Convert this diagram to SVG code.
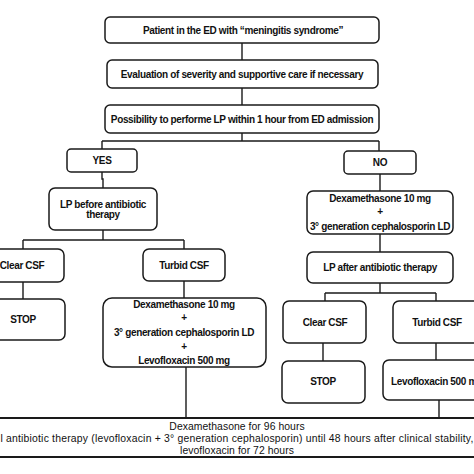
<svg xmlns="http://www.w3.org/2000/svg" width="474" height="474" viewBox="0 0 474 474">
<style>
.box{fill:#fff;stroke:#1a1a1a;stroke-width:1.5}
.t{font-family:"Liberation Sans",Arial,sans-serif;font-weight:bold;font-size:10px;letter-spacing:-0.35px;fill:#111;text-anchor:middle}
.b{font-family:"Liberation Sans",Arial,sans-serif;font-size:10.4px;letter-spacing:0.05px;fill:#111;text-anchor:middle}
.c{stroke:#1a1a1a;stroke-width:1.4;fill:none}
.band{stroke:#1a1a1a;stroke-width:2.2}
</style>
<rect width="474" height="474" fill="#fff"/>
<g id="connectors">
<path class="c" d="M242 43V60M242 88V105M242 133V141M102 141H379M102 141V149M379 141V151"/>
<path class="c" d="M102 172V179H103V188M103 230V240M23 240H184M23 240V249M184 240V249"/>
<path class="c" d="M23 282V299M184 281V298M186 367V418"/>
<path class="c" d="M380 174V191M380 234V252M380 283V293M325 293H436M325 293V301M436 293V301"/>
<path class="c" d="M323 343V361M436 343V360M439 400V418"/>
</g>
<g id="n1"><rect class="box" x="105" y="17" width="274" height="26" rx="5"/><text class="t" x="243" y="33.5">Patient in the ED with “meningitis syndrome”</text></g>
<g id="n2"><rect class="box" x="107" y="60" width="271" height="28" rx="5"/><text class="t" x="242" y="77.5">Evaluation of severity and supportive care if necessary</text></g>
<g id="n3"><rect class="box" x="105" y="105" width="274" height="28" rx="5"/><text class="t" x="242" y="122.5">Possibility to performe LP within 1 hour from ED admission</text></g>
<g id="yes"><rect class="box" x="67" y="149" width="70" height="23" rx="4"/><text class="t" x="102" y="164">YES</text></g>
<g id="no"><rect class="box" x="344" y="151" width="72" height="23" rx="4"/><text class="t" x="380" y="166">NO</text></g>
<g id="lpbefore"><rect class="box" x="49" y="188" width="108" height="42" rx="6"/><text class="t" x="103" y="208">LP  before antibiotic</text><text class="t" x="103" y="218">therapy</text></g>
<g id="clear1"><rect class="box" x="-20" y="249" width="84" height="33" rx="6"/><text class="t" x="22" y="269">Clear CSF</text></g>
<g id="turbid1"><rect class="box" x="143" y="249" width="82" height="32" rx="6"/><text class="t" x="184" y="269">Turbid CSF</text></g>
<g id="stop1"><rect class="box" x="-20" y="299" width="85" height="41" rx="6"/><text class="t" x="23" y="323">STOP</text></g>
<g id="dexa1"><rect class="box" x="103" y="298" width="163" height="69" rx="9"/>
<text class="t" x="184" y="308">Dexamethasone 10 mg</text>
<text class="t" x="184" y="321">+</text>
<text class="t" x="184" y="336">3° generation cephalosporin LD</text>
<text class="t" x="184" y="350">+</text>
<text class="t" x="184" y="364">Levofloxacin 500 mg</text></g>
<g id="dexa2"><rect class="box" x="307" y="191" width="146" height="43" rx="6"/>
<text class="t" x="380" y="202">Dexamethasone 10 mg</text>
<text class="t" x="380" y="215">+</text>
<text class="t" x="380" y="230">3° generation cephalosporin LD</text></g>
<g id="lpafter"><rect class="box" x="307" y="252" width="146" height="31" rx="6"/><text class="t" x="380" y="271">LP after  antibiotic therapy</text></g>
<g id="clear2"><rect class="box" x="283" y="301" width="83" height="42" rx="6"/><text class="t" x="325" y="326">Clear CSF</text></g>
<g id="turbid2"><rect class="box" x="393" y="301" width="90" height="42" rx="6"/><text class="t" x="437" y="326">Turbid CSF</text></g>
<g id="stop2"><rect class="box" x="282" y="361" width="83" height="42" rx="6"/><text class="t" x="323" y="385">STOP</text></g>
<g id="levo2"><rect class="box" x="383" y="360" width="110" height="40" rx="6"/><text class="t" x="391" y="385" style="text-anchor:start">Levofloxacin 500 mg</text></g>
<g id="band">
<line class="band" x1="0" y1="418" x2="474" y2="418"/>
<line class="band" x1="0" y1="457" x2="474" y2="457"/>
<text class="b" x="237" y="430">Dexamethasone for 96 hours</text>
<text class="b" x="473.5" y="442" style="text-anchor:end;letter-spacing:0.2px">l antibiotic therapy (levofloxacin + 3° generation cephalosporin) until 48 hours after clinical stability,</text>
<text class="b" x="237" y="454">levofloxacin for 72 hours</text>
</g>
</svg>
